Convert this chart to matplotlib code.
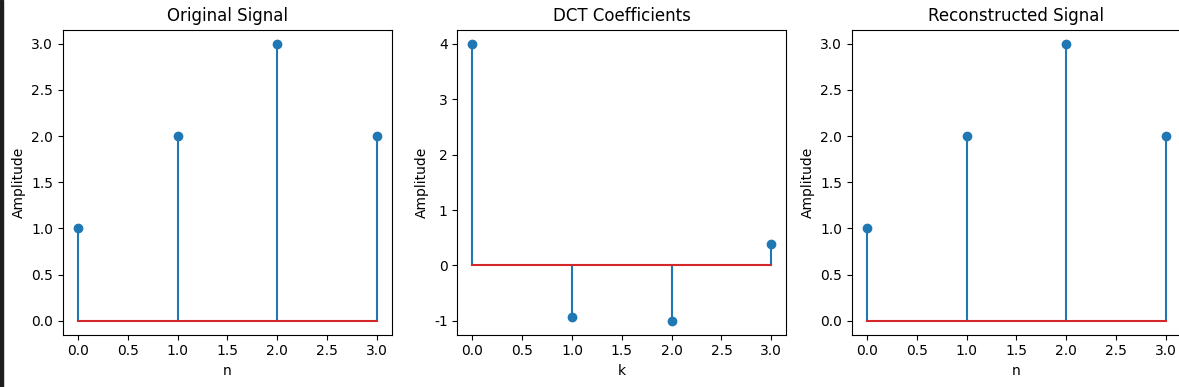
import numpy as np
import matplotlib
matplotlib.use("Agg")
import matplotlib.pyplot as plt

plt.rcParams['axes.unicode_minus'] = False

n = [0, 1, 2, 3]
signal = [1, 2, 3, 2]
dct_coeffs = [4.0, -0.924, -1.0, 0.383]
reconstructed = [1, 2, 3, 2]

titles = ["Original Signal", "DCT Coefficients", "Reconstructed Signal"]
xlabels = ["n", "k", "n"]
series = [signal, dct_coeffs, reconstructed]

fig, axes = plt.subplots(1, 3, figsize=(11.79, 3.87), dpi=100)
for ax, y, t, xl in zip(axes, series, titles, xlabels):
    ml, sl, bl = ax.stem(n, y)
    bl.set_color('tab:red')
    ax.set_title(t)
    ax.set_xlabel(xl)
    ax.set_ylabel("Amplitude")
fig.subplots_adjust(left=0.0534, right=1.0015, top=0.923, bottom=0.135, wspace=0.2)
fig.patches.append(matplotlib.patches.Rectangle((0, 0), 3 / 1179, 1, transform=fig.transFigure, color='#1e1e1e', zorder=10))
fig.savefig("out.png")
